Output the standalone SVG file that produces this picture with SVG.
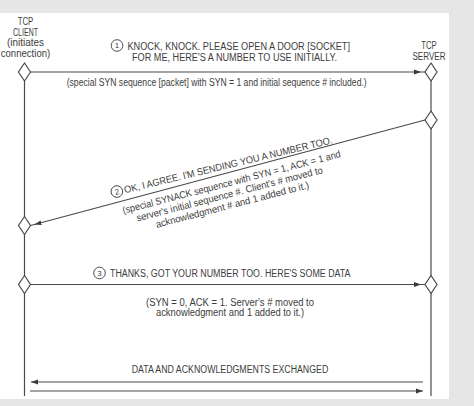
<svg xmlns="http://www.w3.org/2000/svg" width="474" height="406" viewBox="0 0 474 406">
<style>
text{font-family:"Liberation Sans",Arial,sans-serif;font-size:10px;fill:#3d3d3d}
.m{text-anchor:middle}
.lb{font-size:10px}
.ln{stroke:#4a4a4a;stroke-width:1.2;fill:none}
.dm{fill:#fff;stroke:#4a4a4a;stroke-width:1.2}
.cn{fill:none;stroke:#3a3a3a;stroke-width:0.9}
.num{font-size:8px;text-anchor:middle}
</style>
<defs>
<marker id="ah" markerWidth="8" markerHeight="6" refX="7" refY="3" orient="auto" markerUnits="userSpaceOnUse"><path d="M0,0.6 L7,3 L0,5.4z" fill="#3a3a3a"/></marker>
<path id="dia" d="M0,-9 L6,0 L0,9 L-6,0z"/>
</defs>
<rect width="474" height="406" fill="#e6e6e6"/>
<rect x="0" y="13" width="449" height="386" fill="#fff"/>

<g id="client">
<text class="m lb" x="25.5" y="25" textLength="15.5" lengthAdjust="spacingAndGlyphs">TCP</text>
<text class="m lb" x="25.5" y="35.5" textLength="25" lengthAdjust="spacingAndGlyphs">CLIENT</text>
<text class="m lb" x="25.5" y="46" textLength="37" lengthAdjust="spacingAndGlyphs">(initiates</text>
<text class="m lb" x="25.5" y="56.8" textLength="49.5" lengthAdjust="spacingAndGlyphs">connection)</text>
<line class="ln" x1="24.5" y1="81" x2="24.5" y2="396"/>
<use href="#dia" class="dm" x="24.5" y="72"/>
<use href="#dia" class="dm" x="24.5" y="225.5"/>
<use href="#dia" class="dm" x="24.5" y="284.5"/>
</g>

<g id="server">
<text class="m lb" x="429" y="48.5" textLength="15.5" lengthAdjust="spacingAndGlyphs">TCP</text>
<text class="m lb" x="429" y="59.5" textLength="33" lengthAdjust="spacingAndGlyphs">SERVER</text>
<line class="ln" x1="431" y1="81" x2="431" y2="396"/>
<use href="#dia" class="dm" x="431" y="72"/>
<use href="#dia" class="dm" x="431" y="120"/>
<use href="#dia" class="dm" x="431" y="284.5"/>
</g>

<g id="connectors">
<polyline class="ln" points="30.5,72 421,72 425,72" marker-mid="url(#ah)"/>
<polyline class="ln" points="425,120 34.4,224.5 30.5,225.5" marker-mid="url(#ah)"/>
<polyline class="ln" points="30.5,284.5 421,284.5 425,284.5" marker-mid="url(#ah)"/>
<line class="ln" x1="423" y1="382" x2="31" y2="382" marker-end="url(#ah)"/>
<line class="ln" x1="30" y1="391" x2="423" y2="391" marker-end="url(#ah)"/>
</g>

<g id="msg1">
<circle class="cn" cx="117" cy="45.5" r="5.8"/>
<text class="num" x="117" y="48.4">1</text>
<text x="127.5" y="49.5" textLength="222.5" lengthAdjust="spacingAndGlyphs">KNOCK, KNOCK. PLEASE OPEN A DOOR [SOCKET]</text>
<text class="m" x="234.5" y="60.5" textLength="205" lengthAdjust="spacingAndGlyphs">FOR ME, HERE'S A NUMBER TO USE INITIALLY.</text>
<text class="m" x="216.7" y="86" textLength="300" lengthAdjust="spacingAndGlyphs">(special SYN sequence [packet] with SYN = 1 and initial sequence # included.)</text>
</g>

<g id="msg2" transform="translate(228,172.6) rotate(-14.62)">
<g transform="rotate(1.07)">
<circle class="cn" cx="-112.5" cy="-7.6" r="5.8"/>
<text class="num" x="-112.5" y="-4.7">2</text>
<text x="-105" y="-4" textLength="214" lengthAdjust="spacingAndGlyphs">OK, I AGREE. I'M SENDING YOU A NUMBER TOO.</text>
</g>
<text class="m" x="1" y="13.5" textLength="225" lengthAdjust="spacingAndGlyphs">(special SYNACK sequence with SYN = 1, ACK = 1 and</text>
<text class="m" x="-4" y="24.5" textLength="192" lengthAdjust="spacingAndGlyphs">server's initial sequence #. Client's # moved to</text>
<text class="m" x="-4" y="35.5" textLength="158" lengthAdjust="spacingAndGlyphs">acknowledgment # and 1 added to it.)</text>
</g>

<g id="msg3">
<circle class="cn" cx="99.5" cy="273" r="5.8"/>
<text class="num" x="99.5" y="275.9">3</text>
<text x="110" y="276.6" textLength="240.5" lengthAdjust="spacingAndGlyphs">THANKS, GOT YOUR NUMBER TOO. HERE'S SOME DATA</text>
<text class="m" x="230" y="305.5" textLength="168" lengthAdjust="spacingAndGlyphs">(SYN = 0, ACK = 1. Server's # moved to</text>
<text class="m" x="230" y="316" textLength="148" lengthAdjust="spacingAndGlyphs">acknowledgment and 1 added to it.)</text>
</g>

<g id="data">
<text class="m" x="230" y="373" textLength="196.5" lengthAdjust="spacingAndGlyphs">DATA AND ACKNOWLEDGMENTS EXCHANGED</text>
</g>
</svg>
